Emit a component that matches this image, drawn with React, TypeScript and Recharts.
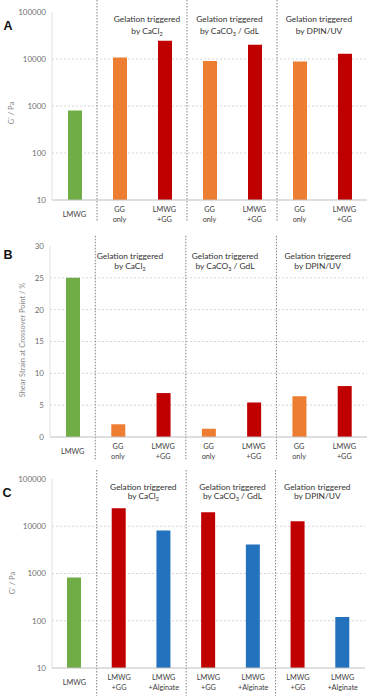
import { Bar, BarChart, CartesianGrid, Cell, ReferenceLine, XAxis, YAxis } from "recharts";

// categories (line breaks mark the two-line tick labels)
const labelsGG = ["LMWG", "GG\nonly", "LMWG\n+GG", "GG\nonly", "LMWG\n+GG", "GG\nonly", "LMWG\n+GG"];
const labelsAlginate = ["LMWG", "LMWG\n+GG", "LMWG\n+Alginate", "LMWG\n+GG", "LMWG\n+Alginate", "LMWG\n+GG", "LMWG\n+Alginate"];

// A: G' / Pa
const storageModulusA = [800, 10800, 24500, 9100, 20000, 8800, 12900];
// B: shear strain at crossover point / %
const crossoverStrainB = [25, 2.0, 6.9, 1.3, 5.4, 6.4, 8.0];
// C: G' / Pa
const storageModulusC = [820, 24100, 8100, 19900, 4100, 12800, 120];

const logTicks = [10, 100, 1000, 10000, 100000];
const strainTicks = [0, 5, 10, 15, 20, 25, 30];

const groupTitle = "Gelation triggered";
const groupTriggers = [
  { text: "by CaCl", sub: "2", tail: "" },
  { text: "by CaCO", sub: "3", tail: " / GdL" },
  { text: "by DPIN/UV", sub: "", tail: "" },
];
const groupStarts = [1, 3, 5];

const GREEN = "#70ad47";
const ORANGE = "#ed7d31";
const RED = "#c00000";
const BLUE = "#2372be";
const FONT = "Lato, 'Liberation Sans', sans-serif";

function barColour(label: string) {
  if (label.includes("Alginate")) return BLUE;
  if (label.includes("+GG")) return RED;
  if (label.includes("GG")) return ORANGE;
  return GREEN;
}

function CategoryTick(props: any) {
  const { x, y, payload, labels } = props;
  const lines: string[] = labels[payload.value].split("\n");
  const rows = lines.length === 1 ? [14] : [9.5, 19.5];
  return (
    <g>
      {lines.map((line, i) => (
        <text
          key={i}
          x={x}
          y={y + rows[i]}
          textAnchor="middle"
          dominantBaseline="central"
          fontSize={7.3}
          fontFamily={FONT}
          fill="#404040"
        >
          {line}
        </text>
      ))}
    </g>
  );
}

interface PanelProps {
  letter: string
  labels: string[]
  values: number[]
  top: number
  plotTop: number
  xAxisHeight: number
  yWidth: number
  right: number
  log: boolean
  ticks: number[]
  grid: number[]
  span: [number, number]
  headerX: number[]
  headerY: [number, number]
  title: string
  titlePos: [number, number]
  letterPos: [number, number]
}

function Panel(p: PanelProps) {
  const rows = p.values.map((v, i) => ({ id: i, value: v }));
  return (
    <>
      <div style={{ position: "absolute", left: 0, top: p.top }}>
        <BarChart
          width={373}
          height={232}
          data={rows}
          margin={{ top: p.plotTop, right: p.right, bottom: 0, left: 0 }}
        >
          <CartesianGrid vertical={false} horizontalValues={p.grid} stroke="#d6d6d6" strokeDasharray="2 2" />
          <XAxis
            dataKey="id"
            type="category"
            height={p.xAxisHeight}
            axisLine={{ stroke: "#bfbfbf" }}
            tickLine={false}
            tickSize={0}
            tickMargin={0}
            interval={0}
            tick={(t: any) => <CategoryTick {...t} labels={p.labels} />}
          />
          <YAxis
            width={p.yWidth}
            scale={p.log ? "log" : "linear"}
            domain={[p.ticks[0], p.ticks[p.ticks.length - 1]]}
            ticks={p.ticks}
            interval={0}
            allowDataOverflow
            axisLine={{ stroke: "#e0e0e0" }}
            tickLine={false}
            tickSize={0}
            tickMargin={6}
            tick={{ fontSize: 8, fontFamily: FONT, fill: "#6f6f6f" }}
          />
          {groupStarts.map((g) => (
            <ReferenceLine
              key={g}
              segment={[
                { x: g, y: p.span[0] },
                { x: g, y: p.span[1] },
              ]}
              position="start"
              ifOverflow="visible"
              stroke="#808080"
              strokeDasharray="1.5 1.5"
            />
          ))}
          <Bar dataKey="value" barSize={14} isAnimationActive={false}>
            {rows.map((r) => (
              <Cell key={r.id} fill={barColour(p.labels[r.id])} />
            ))}
          </Bar>
        </BarChart>
      </div>
      {groupTriggers.map((g, i) => (
        <div key={i}>
          <div style={headerStyle(p.headerX[i], p.headerY[0])}>{groupTitle}</div>
          <div style={headerStyle(p.headerX[i], p.headerY[1])}>
            {g.text}
            {g.sub && (
              <span style={{ fontSize: 5.5, position: "relative", top: 1.5, lineHeight: 0 }}>{g.sub}</span>
            )}
            {g.tail}
          </div>
        </div>
      ))}
      <div
        style={{
          position: "absolute",
          left: p.titlePos[0],
          top: p.titlePos[1],
          transform: "translate(-50%, -50%) rotate(-90deg)",
          whiteSpace: "nowrap",
          fontFamily: FONT,
          fontSize: 7.5,
          color: "#8c8c8c",
          lineHeight: "9px",
        }}
      >
        {p.title}
      </div>
      <div
        style={{
          position: "absolute",
          left: p.letterPos[0],
          top: p.letterPos[1],
          transform: "translate(-50%, -50%)",
          fontFamily: "'Liberation Sans', Arial, sans-serif",
          fontWeight: "bold",
          fontSize: 12.5,
          lineHeight: "14px",
          color: "#111",
        }}
      >
        {p.letter}
      </div>
    </>
  );
}

function headerStyle(cx: number, cy: number): React.CSSProperties {
  return {
    position: "absolute",
    left: cx,
    top: cy,
    transform: "translate(-50%, -50%)",
    whiteSpace: "nowrap",
    fontFamily: FONT,
    fontSize: 8.4,
    lineHeight: "9px",
    color: "#333",
  };
}

export default function App() {
  return (
    <div style={{ position: "absolute", left: 0, top: 0, width: 373, height: 696, background: "#fff" }}>
      <Panel
        letter="A"
        labels={labelsGG}
        values={storageModulusA}
        top={0}
        plotTop={12}
        xAxisHeight={32}
        yWidth={52}
        right={6}
        log
        ticks={logTicks}
        grid={[100, 1000, 10000]}
        span={[180000, 3.4]}
        headerX={[147, 229.5, 319]}
        headerY={[19, 31]}
        title="G' / Pa"
        titlePos={[11, 113]}
        letterPos={[8, 26]}
      />
      <Panel
        letter="B"
        labels={labelsGG}
        values={crossoverStrainB}
        top={232}
        plotTop={14}
        xAxisHeight={27}
        yWidth={50}
        right={6}
        log={false}
        ticks={strainTicks}
        grid={[5, 10, 15, 20, 25]}
        span={[31.6, -3.7]}
        headerX={[130, 225, 317.6]}
        headerY={[256, 266]}
        title="Shear Strain at Crossover Point / %"
        titlePos={[22, 340]}
        letterPos={[8, 255]}
      />
      <Panel
        letter="C"
        labels={labelsAlginate}
        values={storageModulusC}
        top={464}
        plotTop={15}
        xAxisHeight={28}
        yWidth={52}
        right={8}
        log
        ticks={logTicks}
        grid={[100, 1000, 10000]}
        span={[155000, 2.6]}
        headerX={[143.3, 232.5, 317.3]}
        headerY={[486.5, 496.3]}
        title="G' / Pa"
        titlePos={[11.7, 583]}
        letterPos={[7, 493]}
      />
    </div>
  );
}
